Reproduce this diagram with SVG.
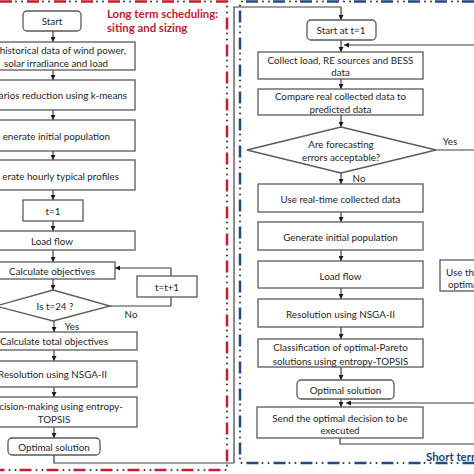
<svg xmlns="http://www.w3.org/2000/svg" width="474" height="474" viewBox="0 0 474 474">
<defs>
<marker id="ah" viewBox="0 0 10 10" refX="10" refY="5" markerWidth="5" markerHeight="5" orient="auto" markerUnits="userSpaceOnUse">
<path d="M0,0 L10,5 L0,10 z" fill="#1a1a1a"/>
</marker>
<style>
.b{fill:#fff;stroke:#5a5a5a;stroke-width:1.3}
.t{font-family:Lato,"Liberation Sans",sans-serif;font-size:9.8px;fill:#262626;text-anchor:middle;dominant-baseline:central}
.e{text-anchor:end}
.s{text-anchor:start}
.c{fill:none;stroke:#404040;stroke-width:1.2}
.a{marker-end:url(#ah)}
.rd{fill:none;stroke:#c0202f;stroke-width:2.5;stroke-dasharray:12 15}
.bd{fill:none;stroke:#264a80;stroke-width:2.5;stroke-dasharray:12 15}
.dt{fill:none;stroke:#333;stroke-width:2;stroke-linecap:round;stroke-dasharray:0 6 0 21;stroke-dashoffset:11}
.ttl{font-family:Lato,"Liberation Sans",sans-serif;font-weight:bold;font-size:11.4px;fill:#c0202f}
.stl{font-family:Lato,"Liberation Sans",sans-serif;font-weight:bold;font-size:11.4px;fill:#1f3f73}
</style>
</defs>

<g id="borders">
<path class="rd" d="M0,1.5 H227 V470 H0"/>
<path class="dt" d="M0,1.5 H227 V470 H0"/>
<path class="bd" d="M474,1.5 H240 V463 H474"/>
<path class="dt" d="M474,1.5 H240 V463 H474"/>
</g>

<g id="titles">
<text class="ttl" x="107" y="18">Long term scheduling:</text>
<text class="ttl" x="107" y="32">siting and sizing</text>
<text class="stl" x="426" y="461">Short term</text>
</g>

<g id="connectors">
<path class="c a" d="M53,31 V42"/>
<path class="c a" d="M53,70 V80"/>
<path class="c a" d="M53,110 V120"/>
<path class="c a" d="M53,151 V160"/>
<path class="c a" d="M53,190 V200"/>
<path class="c a" d="M53,221 V231"/>
<path class="c a" d="M53,250 V262"/>
<path class="c a" d="M53,279 V290"/>
<path class="c a" d="M54,321 V332"/>
<path class="c a" d="M54,350 V361"/>
<path class="c a" d="M54,387 V397"/>
<path class="c a" d="M54,427 V438"/>
<path class="c" d="M110,306 H171 V297"/>
<path class="c a" d="M171,276 V268 H115"/>
<path class="c a" d="M54,455 V463 H234 V7 H341 V20"/>
<path class="c a" d="M341,40 V52"/>
<path class="c a" d="M474,45 H344"/>
<path class="c a" d="M341,79 V89"/>
<path class="c a" d="M341,115 V127"/>
<path class="c" d="M436,150 H474"/>
<path class="c a" d="M341,173 V184"/>
<path class="c a" d="M341,212 V222"/>
<path class="c a" d="M341,250 V261"/>
<path class="c a" d="M341,288 V299"/>
<path class="c a" d="M341,327 V339"/>
<path class="c a" d="M341,367 V380"/>
<path class="c a" d="M341,399 V407"/>
<path class="c a" d="M474,403 H346"/>
<path class="c" d="M340,438 V444 H474"/>
</g>

<g id="l-start"><rect class="b" x="23" y="11" width="58" height="20" rx="4"/><text class="t" x="52" y="21">Start</text></g>
<g id="l-historical"><rect class="b" x="-30" y="42" width="165" height="28"/><text class="t e" x="126" y="50">historical data of wind power,</text><text class="t" x="56" y="63">solar irradiance and load</text></g>
<g id="l-scenarios"><rect class="b" x="-30" y="80" width="165" height="30"/><text class="t e" x="127" y="95">arios reduction using k-means</text></g>
<g id="l-initpop"><rect class="b" x="-30" y="120" width="165" height="31"/><text class="t e" x="110" y="136">enerate initial population</text></g>
<g id="l-profiles"><rect class="b" x="-30" y="160" width="165" height="30"/><text class="t e" x="119" y="176">erate hourly typical profiles</text></g>
<g id="l-t1"><rect class="b" x="23" y="200" width="60" height="21"/><text class="t" x="53" y="211">t=1</text></g>
<g id="l-loadflow"><rect class="b" x="-30" y="231" width="165" height="19"/><text class="t" x="52" y="240.5">Load flow</text></g>
<g id="l-calcobj"><rect class="b" x="-10" y="262" width="125" height="17"/><text class="t" x="52" y="270.5">Calculate objectives</text></g>
<g id="l-tt1"><rect class="b" x="137" y="276" width="60" height="21"/><text class="t" x="167" y="287">t=t+1</text></g>
<g id="l-decision"><polygon class="b" points="53,290 110,306 53,321 -4,306"/><text class="t" x="55" y="306">Is t=24 ?</text><text class="t" x="131" y="314">No</text><text class="t" x="72" y="326">Yes</text></g>
<g id="l-total"><rect class="b" x="-30" y="332" width="167" height="18"/><text class="t e" x="108" y="341">Calculate total objectives</text></g>
<g id="l-nsga"><rect class="b" x="-30" y="361" width="167" height="26"/><text class="t e" x="107" y="373.5">Resolution using NSGA-II</text></g>
<g id="l-topsis"><rect class="b" x="-30" y="397" width="167" height="30"/><text class="t e" x="123" y="406">cision-making using entropy-</text><text class="t" x="54" y="418.5">TOPSIS</text></g>
<g id="l-optimal"><rect class="b" x="8" y="438" width="92" height="17" rx="4"/><text class="t" x="54" y="446.5">Optimal solution</text></g>

<g id="r-start"><rect class="b" x="307" y="20" width="69" height="20" rx="4"/><text class="t" x="341" y="30">Start at t=1</text></g>
<g id="r-collect"><rect class="b" x="258" y="52" width="165" height="27"/><text class="t" x="340.5" y="59.5">Collect load, RE sources and BESS</text><text class="t" x="340.5" y="72">data</text></g>
<g id="r-compare"><rect class="b" x="258" y="89" width="165" height="26"/><text class="t" x="340.5" y="96">Compare real collected data to</text><text class="t" x="340.5" y="109">predicted data</text></g>
<g id="r-decision"><polygon class="b" points="341,127 436,150 341,173 247,150"/><text class="t" x="341" y="144">Are forecasting</text><text class="t" x="341" y="157">errors acceptable?</text><text class="t" x="450" y="141">Yes</text><text class="t" x="359" y="178">No</text></g>
<g id="r-realtime"><rect class="b" x="258" y="184" width="165" height="28"/><text class="t" x="340.5" y="199">Use real-time collected data</text></g>
<g id="r-initpop"><rect class="b" x="258" y="222" width="165" height="28"/><text class="t" x="340.5" y="237">Generate initial population</text></g>
<g id="r-loadflow"><rect class="b" x="258" y="261" width="165" height="27"/><text class="t" x="340.5" y="276">Load flow</text></g>
<g id="r-nsga"><rect class="b" x="258" y="299" width="165" height="28"/><text class="t" x="340.5" y="314">Resolution using NSGA-II</text></g>
<g id="r-class"><rect class="b" x="258" y="339" width="165" height="28"/><text class="t" x="340.5" y="347">Classification of optimal-Pareto</text><text class="t" x="340.5" y="361">solutions using entropy-TOPSIS</text></g>
<g id="r-optimal"><rect class="b" x="297" y="380" width="97" height="19" rx="4"/><text class="t" x="345.5" y="390">Optimal solution</text></g>
<g id="r-send"><rect class="b" x="257" y="407" width="166" height="31"/><text class="t" x="340" y="418">Send the optimal decision to be</text><text class="t" x="340" y="430">executed</text></g>
<g id="r-usethe"><rect class="b" x="440" y="260" width="50" height="31"/><text class="t s" x="446" y="272">Use the</text><text class="t s" x="448" y="284">optimal</text></g>
</svg>
